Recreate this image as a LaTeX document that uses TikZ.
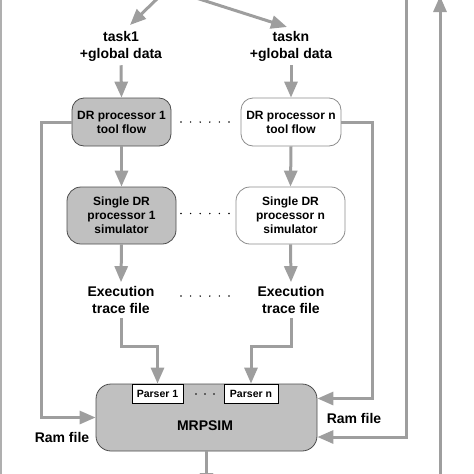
\documentclass[tikz,border=0pt]{standalone}
\usepackage{fontspec}
\setmainfont{Liberation Sans}
\usetikzlibrary{arrows.meta}
\definecolor{linegray}{RGB}{158,158,158}
\definecolor{edgegray}{RGB}{175,175,175}
\definecolor{boxgray}{RGB}{192,192,192}
\begin{document}
\begin{tikzpicture}[x=1pt,y=-1pt,
  conn/.style={draw=linegray,line width=3pt},
  arr/.style={conn,-{Triangle[length=16pt,width=13pt]}},
  procbase/.style={rounded corners=12pt,line width=0.8pt,align=center,inner sep=0pt,
    font=\bfseries\fontsize{12}{14}\selectfont},
  grayproc/.style={procbase,draw=black!70,fill=boxgray},
  whiteproc/.style={procbase,draw=black!45,fill=white},
  lbl/.style={font=\bfseries\fontsize{14}{17}\selectfont,align=center,inner sep=4pt},
  mrpbox/.style={rounded corners=15pt,draw=black!70,fill=boxgray,line width=0.8pt,
    minimum width=221pt,minimum height=67pt,inner sep=0pt},
  parser/.style={draw=black,fill=white,line width=0.8pt,minimum height=19pt,inner sep=0pt,
    font=\bfseries\fontsize{10.5}{12}\selectfont},
  dot/.style={fill=black}
]
\clip (0,0) rectangle (474,474);
% boxes
\node[grayproc,minimum width=99pt,minimum height=48pt] (dr1) at (121.5,122) {DR processor 1\\tool flow};
\node[whiteproc,minimum width=100pt,minimum height=48pt] (drn) at (291,122) {DR processor n\\tool flow};
\node[grayproc,minimum width=109pt,minimum height=57pt,rounded corners=14pt] (sim1) at (121.5,215.5) {Single DR\\processor 1\\simulator};
\node[whiteproc,minimum width=109pt,minimum height=57pt,rounded corners=14pt] (simn) at (290.5,215.5) {Single DR\\processor n\\simulator};
\node[lbl] (t1) at (121,46) {task1\\+global data};
\node[lbl] (tn) at (291,46) {taskn\\+global data};
\node[lbl] (e1) at (121,300) {Execution\\trace file};
\node[lbl] (en) at (291,300) {Execution\\trace file};
\node[mrpbox] (mrp) at (206.5,417.5) {};
\node[lbl] (mrptext) at (205,426) {MRPSIM};
\node[parser,minimum width=51pt] (p1) at (157.5,393.5) {Parser 1};
\node[parser,minimum width=54pt] (pn) at (251,393.5) {Parser n};
\node[lbl] (ram1) at (62,437) {Ram file};
\node[lbl] (ramn) at (354,418) {Ram file};
% dots
\foreach \yy in {122,213.5,296}
  \foreach \i in {0,...,5}
    \fill[dot] (181+9.6*\i,\yy) circle (0.8pt);
\foreach \xx in {196,205,214}
  \fill[dot] (\xx,394) circle (0.8pt);
% coordinates
\coordinate (s1) at (159,-3);
\coordinate (s1e) at (130,25);
\coordinate (s2) at (193,-3);
\coordinate (s2e) at (287,27);
\coordinate (j1) at (0,346);
\coordinate (lc) at (41,417.5);
\coordinate (rc) at (372,398.5);
\coordinate (o1) at (406,-5);
\coordinate (o1b) at (406,437);
\coordinate (f1) at (440,480);
\coordinate (f2) at (440,-4);
\coordinate (b1) at (0,489);
\coordinate (le1) at (1,-2);
\coordinate (le2) at (1,476);
% connectors
\draw[arr] (s1) -- (s1e);
\draw[arr] (s2) -- (s2e);
\draw[arr] (t1.south) -- (dr1.north);
\draw[arr] (tn.south) -- (drn.north);
\draw[arr] (dr1.south) -- (sim1.north);
\draw[arr] (drn.south) -- (simn.north);
\draw[arr] (sim1.south) -- (e1.north);
\draw[arr] (simn.south) -- (en.north);
\draw[arr] (e1.south) -- (e1.south |- j1) -| (p1.north);
\draw[arr] (en.south) -- (en.south |- j1) -| (pn.north);
\draw[arr] (dr1.west) -| (lc) -- (lc -| mrp.west);
\draw[arr] (drn.east) -| (rc) -- (rc -| mrp.east);
\draw[arr] (o1) -- (o1b) -- (o1b -| mrp.east);
\draw[arr] (f1) -- (f2);
\draw[arr] (mrp.south) -- (mrp.south |- b1);
\draw[draw=edgegray,line width=2pt] (le1) -- (le2);
\end{tikzpicture}
\end{document}
